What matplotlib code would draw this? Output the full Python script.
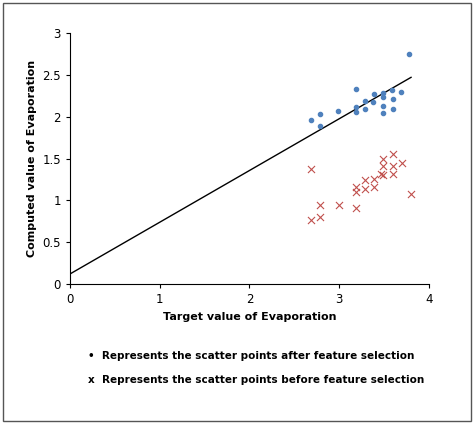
import matplotlib.pyplot as plt
from matplotlib.patches import Rectangle

# after feature selection
after_x = [3.78, 3.19, 3.39, 3.59, 3.69, 3.49, 3.60, 3.29, 3.38, 3.49, 3.19, 3.29,
           3.19, 2.99, 3.60, 3.49, 2.79, 2.69, 2.79, 3.49]
after_y = [2.75, 2.33, 2.27, 2.32, 2.29, 2.24, 2.21, 2.19, 2.17, 2.13, 2.12, 2.09,
           2.06, 2.07, 2.09, 2.04, 2.03, 1.96, 1.89, 2.28]
# before feature selection
before_x = [2.69, 3.60, 3.49, 3.70, 3.49, 3.60, 3.39, 3.49, 3.60, 3.29, 3.19, 3.29,
            3.39, 3.19, 3.80, 2.79, 3.00, 3.19, 2.79, 2.69, 3.47]
before_y = [1.37, 1.55, 1.50, 1.45, 1.41, 1.41, 1.26, 1.30, 1.32, 1.24, 1.16, 1.14,
            1.16, 1.10, 1.08, 0.94, 0.95, 0.91, 0.80, 0.76, 1.31]
line_x = [0, 3.8]
line_y = [0.12, 2.47]

fig = plt.figure(figsize=(4.74, 4.24), dpi=100)
fig.patches.append(Rectangle((0.006, 0.006), 0.988, 0.988, transform=fig.transFigure,
                             fill=False, edgecolor='#555555', linewidth=1))
ax = fig.add_axes([70 / 474, 1 - 284 / 424, 359 / 474, 251 / 424])
ax.plot(line_x, line_y, color='black', linewidth=1)
ax.scatter(after_x, after_y, s=9, color='#4f81bd', zorder=3)
ax.scatter(before_x, before_y, s=26, marker='x', color='#c0504d', linewidths=0.8, zorder=3)
ax.set_xlim(0, 4)
ax.set_ylim(0, 3)
ax.set_xticks([0, 1, 2, 3, 4])
ax.set_yticks([0, 0.5, 1, 1.5, 2, 2.5, 3])
ax.set_yticklabels(['0', '0.5', '1', '1.5', '2', '2.5', '3'])
for s in ['top', 'right']:
    ax.spines[s].set_visible(False)
ax.tick_params(labelsize=8.5, direction='out', length=3)
ax.set_xlabel('Target value of Evaporation', fontsize=8, fontweight='bold')
ax.set_ylabel('Computed value of Evaporation', fontsize=8, fontweight='bold')

fig.text(88 / 474, 1 - 356 / 424, '•  Represents the scatter points after feature selection',
         fontsize=7.5, fontweight='bold', va='center')
fig.text(88 / 474, 1 - 380 / 424, 'x  Represents the scatter points before feature selection',
         fontsize=7.5, fontweight='bold', va='center')

fig.savefig('out.png', dpi=100)
